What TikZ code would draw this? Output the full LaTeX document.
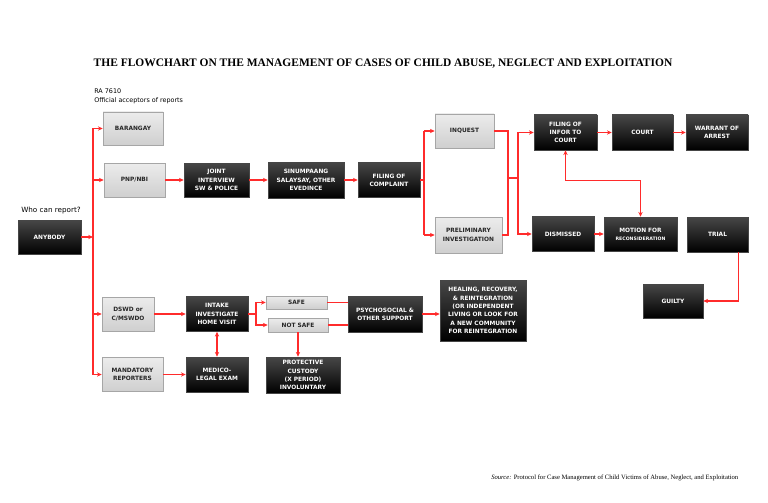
\documentclass[tikz,border=0pt]{standalone}
\usepackage{fontspec}
\setmainfont{DejaVu Sans}
\newfontfamily\timesfont{Liberation Serif}
\usetikzlibrary{arrows.meta,positioning}
\definecolor{flowred}{HTML}{FF2B2B}
\definecolor{boxgray}{HTML}{CFCFCF}

\begin{document}
\begin{tikzpicture}[x=0.75pt,y=-0.75pt,
font=\fontsize{4.4}{6.2}\selectfont\bfseries,
>={Stealth[length=3.6pt,width=3.2pt]},
link/.style={draw=flowred,line width=0.9pt},
flow/.style={link,->},
both/.style={link,<->},
sz/.style 2 args={minimum width=#1*0.75pt,minimum height=#2*0.75pt},
gbox/.style={draw=gray!70,top color=gray!15,bottom color=boxgray,text=black!85,align=center,inner sep=0pt},
bbox/.style={draw=gray!55!black,top color=black!72,bottom color=black,text=white,align=center,inner sep=0pt}]
    \useasboundingbox (0,0) rectangle (768,503);

    % Title and notes
    \node[font=\timesfont\bfseries\fontsize{8.6}{10}\selectfont] (title) at (383,64)
        {THE FLOWCHART ON THE MANAGEMENT OF CASES OF CHILD ABUSE, NEGLECT AND EXPLOITATION};
    \node[anchor=north west,align=left,inner sep=0pt,font=\mdseries\fontsize{4.8}{7.4}\selectfont] (ra) at (94,88)
        {RA 7610\\Official acceptors of reports};
    \node[font=\mdseries\fontsize{5.4}{6}\selectfont] (who) at (51,211) {Who can report?};
    \node[anchor=west,inner sep=0pt,font=\timesfont\mdseries\fontsize{4.95}{6}\selectfont] (source) at (491,478)
        {\textit{Source:} Protocol for Case Management of Child Victims of Abuse, Neglect, and Exploitation};

    % Boxes
    \node[bbox,sz={63}{34}] (anybody) at (49.5,237) {ANYBODY};
    \node[gbox,sz={60}{33}] (barangay) at (133,128.5) {BARANGAY};
    \node[gbox,sz={61}{34}] (pnp) at (134.5,180) {PNP/NBI};
    \node[bbox,sz={65}{34}] (joint) at (216.5,180) {JOINT\\INTERVIEW\\SW \& POLICE};
    \node[bbox,sz={76}{36}] (salaysay) at (306,180) {SINUMPAANG\\SALAYSAY, OTHER\\EVEDINCE};
    \node[bbox,sz={62}{35}] (complaint) at (389,180) {FILING OF\\COMPLAINT};
    \node[gbox,sz={59}{34}] (inquest) at (464.5,131) {INQUEST};
    \node[gbox,sz={67}{36}] (prelim) at (468.5,235) {PRELIMINARY\\INVESTIGATION};
    \node[bbox,sz={63}{35}] (infor) at (565.5,132.5) {FILING OF\\INFOR TO\\COURT};
    \node[bbox,sz={61}{35}] (court) at (642.5,132.5) {COURT};
    \node[bbox,sz={62}{35}] (warrant) at (717,132.5) {WARRANT OF\\ARREST};
    \node[bbox,sz={62}{35}] (dismissed) at (563,234) {DISMISSED};
    \node[bbox,sz={73}{34}] (motion) at (640.5,234)
        {MOTION FOR\\{\fontsize{3.5}{5}\selectfont RECONSIDERATION}};
    \node[bbox,sz={61}{35}] (trial) at (717.5,234.5) {TRIAL};
    \node[bbox,sz={60}{34}] (guilty) at (673,301) {GUILTY};
    \node[gbox,sz={52}{34}] (dswd) at (128,314) {DSWD or\\C/MSWDO};
    \node[bbox,sz={62}{35}] (intake) at (217,314) {INTAKE\\INVESTIGATE\\HOME VISIT};
    \node[gbox,sz={61}{13}] (safe) at (296.5,302.5) {SAFE};
    \node[gbox,sz={60}{14}] (notsafe) at (298,325) {NOT SAFE};
    \node[bbox,sz={74}{36}] (psycho) at (385,314) {PSYCHOSOCIAL \&\\OTHER SUPPORT};
    \node[bbox,sz={86}{61}] (healing) at (483,310.5)
        {HEALING, RECOVERY,\\\& REINTEGRATION\\(OR INDEPENDENT\\LIVING OR LOOK FOR\\A NEW COMMUNITY\\FOR REINTEGRATION};
    \node[gbox,sz={61}{34}] (mandatory) at (132.5,374.5) {MANDATORY\\REPORTERS};
    \node[bbox,sz={62}{35}] (medico) at (217,374.5) {MEDICO-\\LEGAL EXAM};
    \node[bbox,sz={74}{36}] (custody) at (303,375) {PROTECTIVE\\CUSTODY\\(X PERIOD)\\INVOLUNTARY};

    % Reporters to acceptors
    \coordinate (rail) at (93,0);
    \draw[flow] (anybody.east) -- (anybody.east -| rail);
    \draw[link] (barangay.west -| rail) -- (mandatory.west -| rail);
    \foreach \n in {barangay,pnp,dswd,mandatory}
        \draw[flow] (\n.west -| rail) -- (\n.west);

    % Police track
    \draw[flow] (pnp) -- (joint);
    \draw[flow] (joint) -- (salaysay);
    \draw[flow] (salaysay) -- (complaint);
    \coordinate (fork1) at (424,0);
    \draw[link] (complaint.east) -- (complaint.east -| fork1);
    \draw[link] (inquest.west -| fork1) -- (prelim.west -| fork1);
    \draw[flow] (inquest.west -| fork1) -- (inquest.west);
    \draw[flow] (prelim.west -| fork1) -- (prelim.west);
    \coordinate (merge) at (508,178);
    \coordinate (fork2) at (518,178);
    \draw[link] (inquest.east) -| (merge);
    \draw[link] (prelim.east) -| (merge);
    \draw[link] (merge) -- (fork2);
    \draw[flow] (fork2) |- (infor.west);
    \draw[flow] (fork2) |- (dismissed.west);
    \draw[flow] (infor) -- (court);
    \draw[flow] (court) -- (warrant);
    \draw[flow] (dismissed) -- (motion);
    \draw[both] (infor.south) -- ++(0,30) -| (motion.north);
    \draw[flow] ([xshift=-7.5pt]trial.south east) |- (guilty.east);

    % Social welfare track
    \draw[flow] (dswd) -- (intake);
    \draw[flow] (mandatory) -- (medico);
    \draw[both] (intake) -- (medico);
    \coordinate (fork3) at (256,314);
    \draw[link] (intake.east) -- (fork3);
    \draw[flow] (fork3) |- (safe.west);
    \draw[flow] (fork3) |- (notsafe.west);
    \draw[link] (safe.east) -- (safe.east -| psycho.west);
    \draw[link] (notsafe.east) -- (notsafe.east -| psycho.west);
    \draw[flow] (notsafe.south) -- (notsafe.south |- custody.north);
    \draw[flow] (psycho.east) -- (psycho.east -| healing.west);
\end{tikzpicture}
\end{document}
